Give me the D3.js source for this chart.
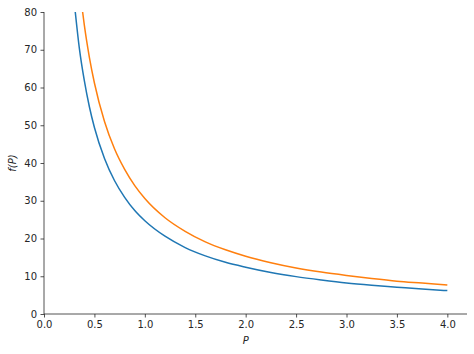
<!DOCTYPE html>
<html>
<head>
  <meta charset="utf-8">
  <title>f(P)</title>
  <style>
  body { margin: 0; background: #fff; }
  .tick text { font-family: "DejaVu Sans", sans-serif; font-size: 10px; fill: #262626; }
  .axis-label { font-family: "DejaVu Sans", sans-serif; font-size: 10px; font-style: italic; fill: #262626; }
  .curve { fill: none; stroke-width: 1.5; stroke-linejoin: round; }
  </style>
</head>
<body>
  <div id="chart"></div>
  <script src="https://d3js.org/d3.v7.min.js"></script>
  <script>
    // values
    var pBlue = [0.31, 0.35, 0.4, 0.45, 0.5, 0.6, 0.7, 0.8, 0.9, 1.0, 1.2, 1.4, 1.6, 1.8, 2.0, 2.25, 2.5, 2.75, 3.0, 3.25, 3.5, 3.75, 4.0];
    var fBlue = [80, 70.5, 61.8, 54.9, 49.4, 41.2, 35.3, 30.9, 27.4, 24.7, 20.6, 17.6, 15.4, 13.7, 12.4, 11.0, 9.9, 9.0, 8.2, 7.6, 7.1, 6.6, 6.2];

    var pOrange = [0.383, 0.4, 0.45, 0.5, 0.6, 0.7, 0.8, 0.9, 1.0, 1.2, 1.4, 1.6, 1.8, 2.0, 2.25, 2.5, 2.75, 3.0, 3.25, 3.5, 3.75, 4.0];
    var fOrange = [80, 76.5, 68.0, 61.2, 51.0, 43.7, 38.3, 34.0, 30.6, 25.5, 21.9, 19.1, 17.0, 15.3, 13.6, 12.2, 11.1, 10.2, 9.4, 8.7, 8.2, 7.7];

    var xTicks = [0, 0.5, 1, 1.5, 2, 2.5, 3, 3.5, 4];
    var yTicks = [0, 10, 20, 30, 40, 50, 60, 70, 80];

    var width = 474, height = 354;
    var margin = {top: 12, right: 7, bottom: 40, left: 44};

    var svg = d3.select("#chart").append("svg")
        .attr("width", width)
        .attr("height", height);

    var x = d3.scaleLinear()
        .domain([0, 4.195])
        .range([margin.left, width - margin.right]);

    var y = d3.scaleLinear()
        .domain([0, 80])
        .range([height - margin.bottom, margin.top]);

    svg.append("clipPath").attr("id", "plot")
      .append("rect")
        .attr("x", margin.left)
        .attr("y", margin.top)
        .attr("width", width - margin.left - margin.right)
        .attr("height", height - margin.top - margin.bottom);

    var line = d3.line()
        .x(function(d) { return x(d[0]); })
        .y(function(d) { return y(d[1]); })
        .curve(d3.curveMonotoneX);

    var series = [
      {p: pBlue, f: fBlue, color: "#1f77b4"},
      {p: pOrange, f: fOrange, color: "#ff7f0e"}
    ];

    svg.append("g")
        .attr("clip-path", "url(#plot)")
      .selectAll("path")
      .data(series)
      .enter().append("path")
        .attr("class", "curve")
        .attr("stroke", function(d) { return d.color; })
        .attr("d", function(d) { return line(d.p.map(function(v, i) { return [v, d.f[i]]; })); });

    var xAxis = svg.append("g")
        .attr("transform", "translate(0," + (height - margin.bottom) + ")")
        .call(d3.axisBottom(x).tickValues(xTicks).tickSize(3.5).tickPadding(3.5)
          .tickFormat(d3.format(".1f")));

    var yAxis = svg.append("g")
        .attr("transform", "translate(" + margin.left + ",0)")
        .call(d3.axisLeft(y).tickValues(yTicks).tickSize(3.5).tickPadding(3.5));

    [xAxis, yAxis].forEach(function(a) {
      a.select(".domain").attr("stroke", "#262626").attr("stroke-width", 0.8)
        .attr("d", a === xAxis
          ? "M" + margin.left + ",0H" + (width - margin.right)
          : "M0," + margin.top + "V" + (height - margin.bottom));
      a.selectAll(".tick line").attr("stroke", "#262626").attr("stroke-width", 0.8);
    });

    svg.append("text")
        .attr("class", "axis-label")
        .attr("x", x(2))
        .attr("y", 344)
        .attr("text-anchor", "middle")
        .text("P");

    svg.append("text")
        .attr("class", "axis-label")
        .attr("transform", "translate(16," + y(40) + ") rotate(-90)")
        .attr("text-anchor", "middle")
        .text("f(P)");
  </script>
</body>
</html>
